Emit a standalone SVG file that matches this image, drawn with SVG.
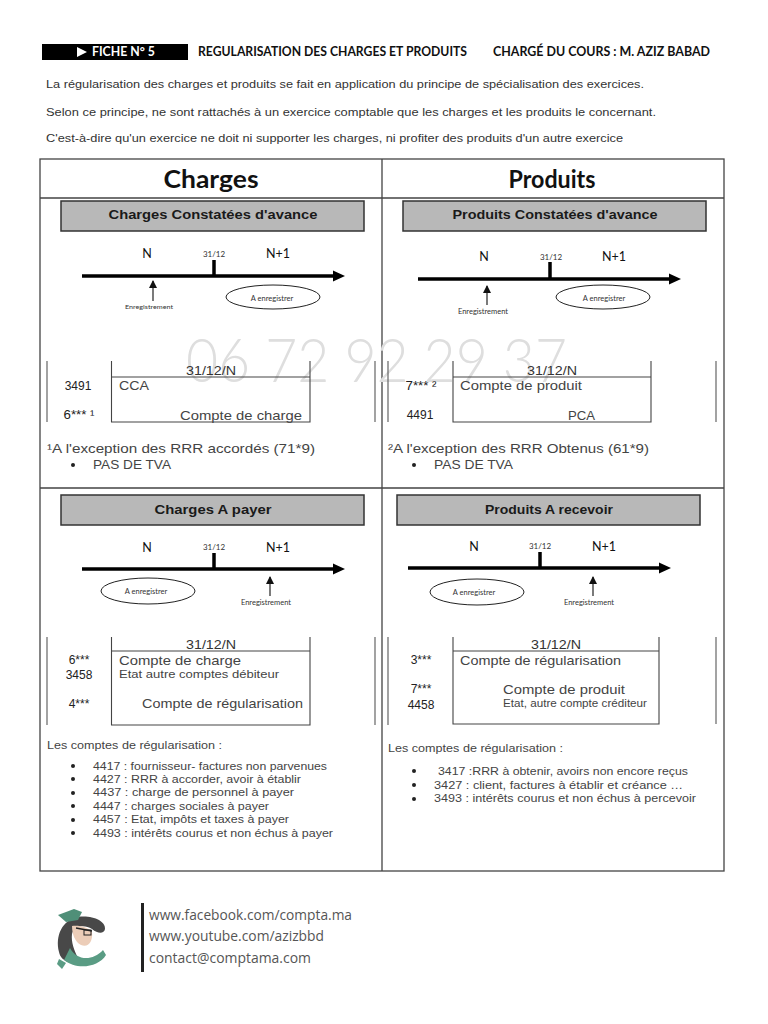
<svg xmlns="http://www.w3.org/2000/svg" width="768" height="1024" viewBox="0 0 768 1024">
<style>
text{font-family:"Liberation Sans",Arial,sans-serif;fill:#3a3a3a}
.hd{font-family:"Lato","Liberation Sans",sans-serif;font-weight:700;font-size:12.5px;fill:#111}
.in{font-size:11.5px;fill:#333}
.ti{font-family:"Lato","Liberation Sans",sans-serif;font-weight:700;font-size:25px;fill:#111;text-anchor:middle}
.bd{font-weight:700;font-size:13.5px;fill:#1a1a1a;text-anchor:middle}
.band{fill:#b8b8b8;stroke:#333;stroke-width:1.5}
.frame{fill:none;stroke:#444;stroke-width:1.3}
.tl{stroke:#000;stroke-width:3.5;fill:none}
.tick{stroke:#000;stroke-width:3.5}
.up{stroke:#222;stroke-width:1.2;marker-end:url(#ah)}
.ell{fill:none;stroke:#222;stroke-width:1}
.t{fill:none;stroke:#444;stroke-width:1.1}
.bar{stroke:#666;stroke-width:1.2}
.y{font-family:"Lato","Liberation Sans",sans-serif;font-size:12.5px;fill:#111;text-anchor:middle}
.yb{font-size:12px;fill:#222;text-anchor:middle}
.d{font-family:"Lato","Liberation Sans",sans-serif;font-size:8px;fill:#333;text-anchor:middle}
.c{font-family:"Lato","Liberation Sans",sans-serif;font-size:7.5px;fill:#333;text-anchor:middle}
.m{font-size:13.5px;fill:#444}
.n{font-size:12px;fill:#333;text-anchor:middle}
.s{font-size:11.5px;fill:#444}
.l{font-size:11.5px;fill:#444}
.f{font-family:"Open Sans","Liberation Sans",sans-serif;font-size:14px;fill:#555}
.wm{font-family:"Lato","Liberation Sans",sans-serif;font-weight:300;font-size:62px;fill:#dedede}
.dot{fill:#222}
</style>
<defs>
<marker id="big" markerUnits="userSpaceOnUse" markerWidth="12" markerHeight="12" refX="0" refY="6" orient="auto"><path d="M0 0.5L12 6L0 11.5z" fill="#000"/></marker>
<marker id="ah" markerUnits="userSpaceOnUse" markerWidth="8" markerHeight="8" refX="7" refY="4" orient="auto"><path d="M0 0L8 4L0 8z" fill="#111"/></marker>
</defs>
<rect width="768" height="1024" fill="#fff"/>

<g id="header">
<rect x="42" y="44" width="146" height="16" fill="#000"/>
<path d="M77 47L87 52L77 57z" fill="#fff"/>
<text x="92" y="56" class="hd" style="fill:#fff" textLength="63" lengthAdjust="spacingAndGlyphs">FICHE N° 5</text>
<text x="198" y="56" class="hd" textLength="269" lengthAdjust="spacingAndGlyphs">REGULARISATION DES CHARGES ET PRODUITS</text>
<text x="493" y="56" class="hd" textLength="217" lengthAdjust="spacingAndGlyphs">CHARGÉ DU COURS : M. AZIZ BABAD</text>
</g>
<g id="intro">
<text x="46" y="88" class="in" textLength="598" lengthAdjust="spacingAndGlyphs">La régularisation des charges et produits se fait en application du principe de spécialisation des exercices.</text>
<text x="46" y="116" class="in" textLength="610" lengthAdjust="spacingAndGlyphs">Selon ce principe, ne sont rattachés à un exercice comptable que les charges et les produits le concernant.</text>
<text x="46" y="142" class="in" textLength="577" lengthAdjust="spacingAndGlyphs">C'est-à-dire qu'un exercice ne doit ni supporter les charges, ni profiter des produits d'un autre exercice</text>
</g>

<g id="table">
<rect x="40" y="159" width="684" height="712" class="frame"/>
<path d="M382 159V871M40 198H724M40 488H724" class="frame"/>
<text x="211" y="188" class="ti" textLength="95" lengthAdjust="spacingAndGlyphs">Charges</text>
<text x="552" y="188" class="ti" textLength="87" lengthAdjust="spacingAndGlyphs">Produits</text>
</g>

<text id="watermark" x="186" y="382" class="wm" textLength="381" lengthAdjust="spacingAndGlyphs">06 72 92 29 37</text>

<g id="connectors">
<path d="M82 276H333" class="tl" marker-end="url(#big)"/><path d="M214 260V276" class="tick"/><path d="M153 301V281" class="up"/>
<path d="M418 279H669" class="tl" marker-end="url(#big)"/><path d="M550 262V279" class="tick"/><path d="M487 305V286" class="up"/>
<path d="M82 569H333" class="tl" marker-end="url(#big)"/><path d="M214 553V569" class="tick"/><path d="M270 596V577" class="up"/>
<path d="M408 568H659" class="tl" marker-end="url(#big)"/><path d="M540 552V568" class="tick"/><path d="M593 596V577" class="up"/>
</g>

<g id="charges-constatees">
<rect x="61" y="201" width="303" height="30" class="band"/>
<text x="213" y="219" class="bd" textLength="209" lengthAdjust="spacingAndGlyphs">Charges Constatées d'avance</text>
<text x="147" y="258" class="y">N</text><text x="214" y="257" class="d">31/12</text><text x="278" y="258" class="y">N+1</text>
<text x="149" y="309" class="c" style="font-size:6.5px" textLength="48" lengthAdjust="spacingAndGlyphs">Enregistrement</text>
<ellipse cx="273" cy="297" rx="47" ry="12" class="ell"/><text x="272" y="301" class="c">A enregistrer</text>
<path d="M47 361V422M375 361V422" class="bar"/>
<path d="M111.500 361V422H310V361M111.500 377H310" class="t"/>
<text x="211" y="375" class="n" textLength="50" lengthAdjust="spacingAndGlyphs">31/12/N</text>
<text x="78" y="390" class="yb">3491</text><text x="79" y="419" class="yb" textLength="31" lengthAdjust="spacingAndGlyphs">6*** ¹</text>
<text x="119" y="390" class="m" textLength="30" lengthAdjust="spacingAndGlyphs">CCA</text>
<text x="180" y="420" class="m" textLength="122" lengthAdjust="spacingAndGlyphs">Compte de charge</text>
<text x="47" y="453" class="m" textLength="268" lengthAdjust="spacingAndGlyphs">¹A l'exception des RRR accordés (71*9)</text>
<circle cx="73" cy="465" r="2" class="dot"/>
<text x="93" y="469" class="s" style="font-size:12.5px" textLength="78" lengthAdjust="spacingAndGlyphs">PAS DE TVA</text>
</g>

<g id="produits-constatees">
<rect x="403" y="201" width="303" height="30" class="band"/>
<text x="555" y="219" class="bd" textLength="205" lengthAdjust="spacingAndGlyphs">Produits Constatées d'avance</text>
<text x="484" y="261" class="y">N</text><text x="551" y="260" class="d">31/12</text><text x="614" y="261" class="y">N+1</text>
<text x="483" y="314" class="c">Enregistrement</text>
<ellipse cx="603" cy="297" rx="47" ry="12" class="ell"/><text x="604" y="301" class="c">A enregistrer</text>
<path d="M388 361V422M716 361V422" class="bar"/>
<path d="M453 361V422H651V361M453 377H651" class="t"/>
<text x="552" y="375" class="n" textLength="50" lengthAdjust="spacingAndGlyphs">31/12/N</text>
<text x="421" y="390" class="yb" textLength="31" lengthAdjust="spacingAndGlyphs">7*** ²</text><text x="420" y="419" class="yb">4491</text>
<text x="460" y="390" class="m" textLength="122" lengthAdjust="spacingAndGlyphs">Compte de produit</text>
<text x="568" y="420" class="m" textLength="27" lengthAdjust="spacingAndGlyphs">PCA</text>
<text x="388" y="453" class="m" textLength="261" lengthAdjust="spacingAndGlyphs">²A l'exception des RRR Obtenus (61*9)</text>
<circle cx="414" cy="465" r="2" class="dot"/>
<text x="434" y="469" class="s" style="font-size:12.5px" textLength="79" lengthAdjust="spacingAndGlyphs">PAS DE TVA</text>
</g>

<g id="charges-a-payer">
<rect x="61" y="495" width="303" height="30" class="band"/>
<text x="213" y="514" class="bd" textLength="117" lengthAdjust="spacingAndGlyphs">Charges A payer</text>
<text x="147" y="552" class="y">N</text><text x="214" y="550" class="d">31/12</text><text x="278" y="552" class="y">N+1</text>
<ellipse cx="148" cy="591" rx="47" ry="13" class="ell"/><text x="146" y="594" class="c">A enregistrer</text>
<text x="266" y="605" class="c">Enregistrement</text>
<path d="M47 637V725M375 637V725M388 637V725" class="bar"/>
<path d="M111.500 637V725H310V637M111.500 651H310" class="t"/>
<text x="211" y="649" class="n" textLength="50" lengthAdjust="spacingAndGlyphs">31/12/N</text>
<text x="79" y="664" class="yb">6***</text><text x="79" y="679" class="yb">3458</text><text x="79" y="708" class="yb">4***</text>
<text x="119" y="665" class="m" textLength="122" lengthAdjust="spacingAndGlyphs">Compte de charge</text>
<text x="119" y="678" class="s" textLength="160" lengthAdjust="spacingAndGlyphs">Etat autre comptes débiteur</text>
<text x="142" y="708" class="m" textLength="161" lengthAdjust="spacingAndGlyphs">Compte de régularisation</text>
<text x="47" y="749" class="l" textLength="175" lengthAdjust="spacingAndGlyphs">Les comptes de régularisation :</text>
<circle cx="73" cy="766" r="2" class="dot"/><text x="93" y="770" class="l" textLength="234" lengthAdjust="spacingAndGlyphs">4417 : fournisseur- factures non parvenues</text>
<circle cx="73" cy="779" r="2" class="dot"/><text x="93" y="783" class="l" textLength="208" lengthAdjust="spacingAndGlyphs">4427 : RRR à accorder, avoir à établir</text>
<circle cx="73" cy="793" r="2" class="dot"/><text x="93" y="796" class="l" textLength="201" lengthAdjust="spacingAndGlyphs">4437 : charge de personnel à payer</text>
<circle cx="73" cy="806" r="2" class="dot"/><text x="93" y="810" class="l" textLength="176" lengthAdjust="spacingAndGlyphs">4447 : charges sociales à payer</text>
<circle cx="73" cy="820" r="2" class="dot"/><text x="93" y="823" class="l" textLength="196" lengthAdjust="spacingAndGlyphs">4457 : Etat, impôts et taxes à payer</text>
<circle cx="73" cy="833" r="2" class="dot"/><text x="93" y="837" class="l" textLength="240" lengthAdjust="spacingAndGlyphs">4493 : intérêts courus et non échus à payer</text>
</g>

<g id="produits-a-recevoir">
<rect x="397" y="495" width="303" height="30" class="band"/>
<text x="549" y="514" class="bd" textLength="128" lengthAdjust="spacingAndGlyphs">Produits A recevoir</text>
<text x="474" y="551" class="y">N</text><text x="540" y="549" class="d">31/12</text><text x="604" y="551" class="y">N+1</text>
<ellipse cx="477" cy="592" rx="47" ry="13" class="ell"/><text x="474" y="595" class="c">A enregistrer</text>
<text x="589" y="605" class="c">Enregistrement</text>
<path d="M716 637V724" class="bar"/>
<path d="M453 637V724H659V637M453 651H659" class="t"/>
<text x="556" y="649" class="n" textLength="50" lengthAdjust="spacingAndGlyphs">31/12/N</text>
<text x="421" y="664" class="yb">3***</text><text x="421" y="693" class="yb">7***</text><text x="421" y="709" class="yb">4458</text>
<text x="460" y="665" class="m" textLength="161" lengthAdjust="spacingAndGlyphs">Compte de régularisation</text>
<text x="503" y="694" class="m" textLength="122" lengthAdjust="spacingAndGlyphs">Compte de produit</text>
<text x="503" y="707" class="s" style="font-size:10px" textLength="144" lengthAdjust="spacingAndGlyphs">Etat, autre compte créditeur</text>
<text x="388" y="752" class="l" textLength="175" lengthAdjust="spacingAndGlyphs">Les comptes de régularisation :</text>
<circle cx="414" cy="771" r="2" class="dot"/><text x="438" y="775" class="l" textLength="250" lengthAdjust="spacingAndGlyphs">3417 :RRR à obtenir, avoirs non encore reçus</text>
<circle cx="414" cy="785" r="2" class="dot"/><text x="434" y="789" class="l" textLength="249" lengthAdjust="spacingAndGlyphs">3427 : client, factures à établir et créance …</text>
<circle cx="414" cy="799" r="2" class="dot"/><text x="434" y="802" class="l" textLength="262" lengthAdjust="spacingAndGlyphs">3493 : intérêts courus et non échus à percevoir</text>
</g>

<g id="footer">
<path d="M59 952C55 936 62 920 78 917C92 915 106 921 105 929C104 934 98 934 92 929C84 924 74 926 72 934C71 942 74 950 78 958L68 962C63 960 60 957 59 952z" fill="#484848"/>
<path d="M70 948C76 960 92 962 103 950L106 955C98 968 76 970 64 960z" fill="#5a9c84"/>
<path d="M59 959L66 963L62 969L57 964z" fill="#5a9c84"/>
<path d="M72 926C80 925 89 928 92 932C93 942 88 948 81 945C75 942 72 934 72 926z" fill="#eccdb8"/>
<path d="M76 928L92 931" stroke="#222" stroke-width="1.500" fill="none"/>
<rect x="84" y="930" width="7" height="5" fill="none" stroke="#222" stroke-width="1"/>
<path d="M58 915L74 909L82 912L78 920L66 922z" fill="#4f8f78"/>
<rect x="141" y="903" width="3" height="69" fill="#222"/>
<text x="149" y="920" class="f" textLength="203" lengthAdjust="spacingAndGlyphs">www.facebook.com/compta.ma</text>
<text x="149" y="941" class="f" textLength="175" lengthAdjust="spacingAndGlyphs">www.youtube.com/azizbbd</text>
<text x="149" y="963" class="f" textLength="162" lengthAdjust="spacingAndGlyphs">contact@comptama.com</text>
</g>
</svg>
